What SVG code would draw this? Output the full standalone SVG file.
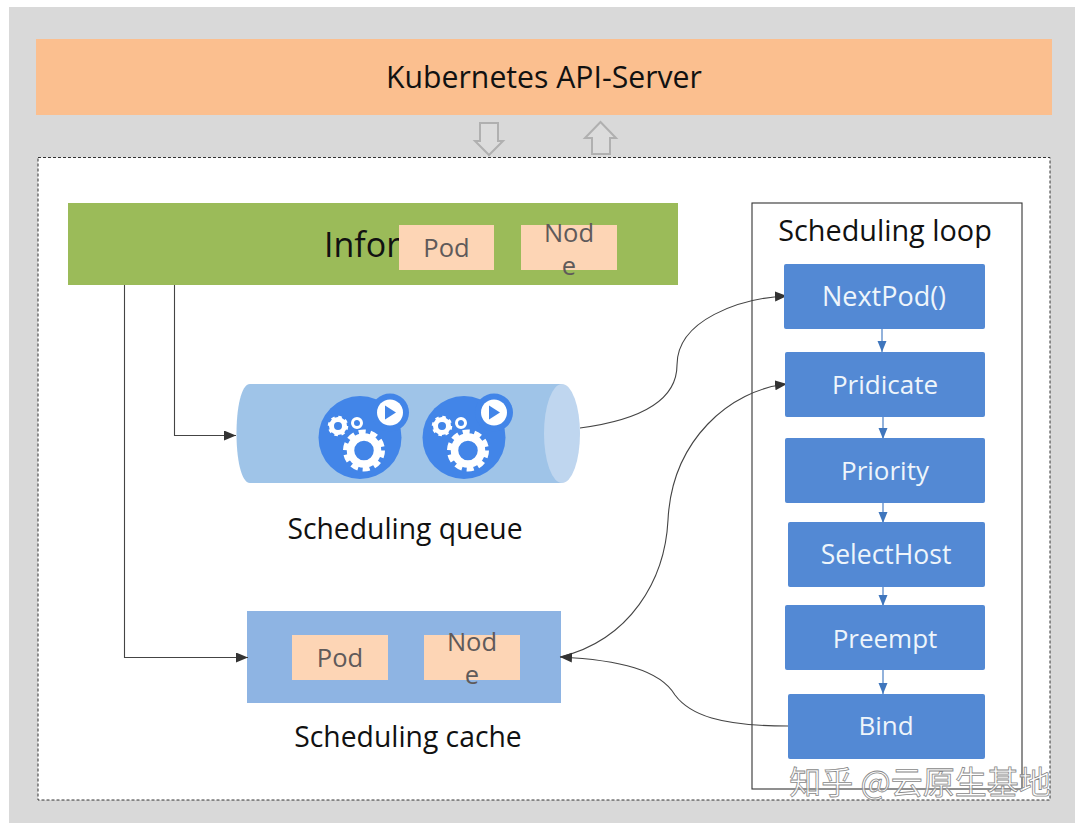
<svg xmlns="http://www.w3.org/2000/svg" width="1080" height="827" viewBox="0 0 1080 827">
<defs>
<style>
text{font-family:"Open Sans","Noto Sans","Noto Sans CJK SC",sans-serif;text-anchor:middle}
.d{font-size:28.300px;fill:#111}
.pk{fill:#fdd5b5}
.pt{font-size:25.500px;fill:#5f5a5a}
.b{fill:#5389d4}
.w{font-size:26px;fill:#eef5fb}
.c{fill:none;stroke:#444;stroke-width:1.100}
.s{fill:none;stroke:#4a7fc4;stroke-width:1.200}
.g{fill:none;stroke:#fff}
.ar{fill:#dcdcdc;stroke:#b0b0b0;stroke-width:2}
</style>
<marker id="a" markerWidth="13" markerHeight="11" refX="12" refY="5" orient="auto" markerUnits="userSpaceOnUse"><path d="M0 0L12 5L0 10z" fill="#333"/></marker>
<marker id="m" markerWidth="12" markerHeight="10" refX="11" refY="4.500" orient="auto" markerUnits="userSpaceOnUse"><path d="M0 0L11 4.500L0 9z" fill="#3f76bd"/></marker>
<g id="gear">
<circle cx="0" cy="0" r="41.500" fill="#4285e8"/>
<circle cx="30" cy="-25" r="19" fill="#4285e8"/>
<circle cx="30" cy="-25" r="13" fill="#fff"/>
<path d="M25 -32L36 -25L25 -18z" fill="#4285e8"/>
<circle cx="-22" cy="-11.500" r="6.500" class="g" stroke-width="5"/>
<circle cx="-22" cy="-11.500" r="9" class="g" stroke-width="2.500" stroke-dasharray="3.500 3.570"/>
<circle cx="-3" cy="-14.500" r="4.500" class="g" stroke-width="3"/>
<circle cx="4" cy="13" r="13.500" class="g" stroke-width="7.500"/>
<circle cx="4" cy="13" r="18.500" class="g" stroke-width="5" stroke-dasharray="7 4.620"/>
</g>
</defs>
<rect width="1080" height="827" fill="#fff"/>
<rect id="bg" x="9" y="7" width="1066" height="816" fill="#d9d9d9"/>
<g id="api"><rect x="36" y="39" width="1016" height="76" fill="#fbbf8f"/><text class="d" x="544" y="88" style="font-size:30.200px">Kubernetes API-Server</text></g>
<g id="arrow-down"><path class="ar" d="M480 123H498V141H503L489 155L475 141H480z"/></g>
<g id="arrow-up"><path class="ar" d="M592 154H610V138H616L600.500 122L585 138H592z"/></g>
<rect id="panel" x="38" y="157.500" width="1012" height="642.500" fill="#fff" stroke="#333" stroke-width="1" stroke-dasharray="3 2"/>
<g id="informer">
<rect x="68" y="203" width="610" height="82" fill="#9bbb59"/>
<text class="d" x="362" y="257" style="font-size:34px">Infor</text>
<rect class="pk" x="399" y="225" width="95" height="45"/><text class="pt" x="446.500" y="257">Pod</text>
<rect class="pk" x="521" y="225" width="96" height="45"/><text class="pt" x="569" y="242">Nod</text><text class="pt" x="569" y="275">e</text>
</g>
<g id="scheduling-loop">
<rect x="752" y="203" width="270" height="586" fill="none" stroke="#333" stroke-width="1.100"/>
<text class="d" x="885" y="241" style="font-size:28.800px">Scheduling loop</text>
</g>
<g id="queue">
<path d="M250 384H562V483H250C232 483 232 384 250 384z" fill="#9fc4e8"/>
<ellipse cx="562" cy="433.500" rx="18" ry="49.500" fill="#bfd6ef"/>
<use href="#gear" x="360" y="437.500"/>
<use href="#gear" x="464" y="437.500"/>
<text class="d" x="405" y="539">Scheduling queue</text>
</g>
<g id="cache">
<rect x="247" y="611" width="314" height="92" fill="#8eb4e3"/>
<rect class="pk" x="292" y="635" width="96" height="45"/><text class="pt" x="340" y="667">Pod</text>
<rect class="pk" x="424" y="635" width="96" height="45"/><text class="pt" x="472" y="651">Nod</text><text class="pt" x="472" y="684">e</text>
<text class="d" x="408" y="747">Scheduling cache</text>
</g>
<g id="connectors">
<path class="c" d="M174.500 285V435.500H236" marker-end="url(#a)"/>
<path class="c" d="M124.500 285V657.500H248" marker-end="url(#a)"/>
<path class="c" d="M580 428C640 420 677 400 677 365C677 320 740 298 787 296" marker-end="url(#a)"/>
<path class="c" d="M560 657C630 640 665 580 668 520C672 440 730 390 787 384" marker-end="url(#a)"/>
<path class="c" d="M788 726C720 726 690 715 675 695C660 670 620 660 560 657" marker-end="url(#a)"/>
<path class="s" d="M882 329V352" marker-end="url(#m)"/>
<path class="s" d="M883 417V439" marker-end="url(#m)"/>
<path class="s" d="M883 503V523" marker-end="url(#m)"/>
<path class="s" d="M883 587V606" marker-end="url(#m)"/>
<path class="s" d="M883 670V694" marker-end="url(#m)"/>
</g>
<g id="nextpod"><rect class="b" x="784" y="264" width="201" height="65" rx="2"/><text class="w" x="884" y="306" style="font-size:27px">NextPod()</text></g>
<g id="pridicate"><rect class="b" x="785" y="352" width="200" height="65" rx="2"/><text class="w" x="885" y="394">Pridicate</text></g>
<g id="priority"><rect class="b" x="785" y="438" width="200" height="65" rx="2"/><text class="w" x="885" y="480">Priority</text></g>
<g id="selecthost"><rect class="b" x="788" y="522" width="197" height="65" rx="2"/><text class="w" x="886" y="564" style="font-size:26.500px">SelectHost</text></g>
<g id="preempt"><rect class="b" x="785" y="605" width="200" height="65" rx="2"/><text class="w" x="885" y="648">Preempt</text></g>
<g id="bind"><rect class="b" x="788" y="694" width="197" height="65" rx="2"/><text class="w" x="886" y="735">Bind</text></g>
<text id="watermark" x="920" y="794" style="font-family:'Noto Sans CJK SC','Noto Sans',sans-serif;font-size:32px;fill:#fff;fill-opacity:.75;stroke:#888;stroke-width:.8">知乎 @云原生基地</text>
</svg>
